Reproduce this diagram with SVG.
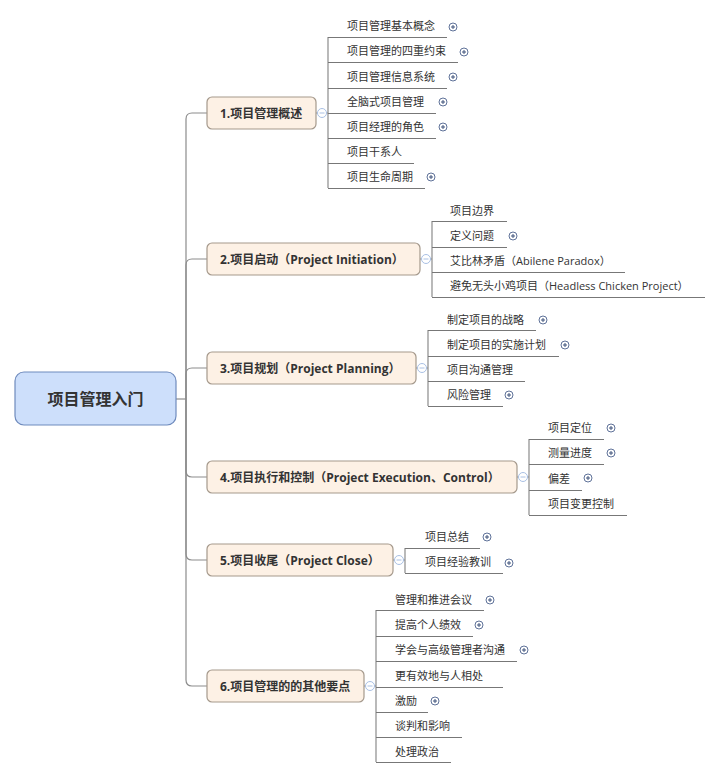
<svg xmlns="http://www.w3.org/2000/svg" width="720" height="777" viewBox="0 0 720 777">
<defs>
<style>
text{font-family:"Open Sans","Noto Sans CJK SC",sans-serif;fill:#333}
.root rect{fill:#cddffb;stroke:#6f8bbd;stroke-width:1.2}
.root text{font-size:16px;font-weight:bold;text-anchor:middle}
.br rect{fill:#fdf1e5;stroke:#a5998c;stroke-width:1.2}
.br text{font-size:12px;font-weight:bold}
.leaf text{font-size:11px}
.ul{stroke:#777;stroke-width:1}
.conn path{fill:none;stroke:#8c8c8c;stroke-width:1.2}
.col circle{fill:#fff;stroke:#a9c0e4;stroke-width:1}
.col line{stroke:#a9c0e4;stroke-width:1}
</style>
<g id="plus"><circle r="4" fill="#fff" stroke="#5f7299" stroke-width="1"/><path d="M-2,0H2M0,-2V2" stroke="#3f527a" stroke-width="1"/></g>
<g id="minus"><circle r="4.5" fill="#fff" stroke="#a9c0e4" stroke-width="1"/><path d="M-2.5,0H2.5" stroke="#a9c0e4" stroke-width="1"/></g>
</defs>
<rect width="720" height="777" fill="#fff"/>

<g id="connectors" class="conn">
<path d="M176,399H186"/>
<path d="M186,399V119Q186,113 192,113H207"/>
<path d="M186,399V265Q186,259 192,259H207"/>
<path d="M186,399V374Q186,368 192,368H207"/>
<path d="M186,399V471Q186,477 192,477H207"/>
<path d="M186,399V554Q186,560 192,560H207"/>
<path d="M186,399V680Q186,686 192,686H207"/>
<path d="M316,113H328M328,37V188"/>
<path d="M420,259H432M432,221V297"/>
<path d="M416,368H428M428,330V406"/>
<path d="M517,477H529M529,439V515"/>
<path d="M393,560H405M405,548V573"/>
<path d="M364,686H376M376,610V762"/>
</g>

<g id="root" class="root"><rect x="15" y="372" width="161" height="53" rx="9"/><text x="95.5" y="405">项目管理入门</text></g>

<g id="b1" class="br"><rect x="207" y="97" width="109" height="32" rx="5"/><text x="220" y="117.5">1.项目管理概述</text><use href="#minus" x="322" y="113"/></g>
<g id="b2" class="br"><rect x="207" y="243" width="213" height="32" rx="5"/><text x="220" y="263.5">2.项目启动（Project Initiation）</text><use href="#minus" x="426" y="259"/></g>
<g id="b3" class="br"><rect x="207" y="352" width="209" height="32" rx="5"/><text x="220" y="372.5">3.项目规划（Project Planning）</text><use href="#minus" x="422" y="368"/></g>
<g id="b4" class="br"><rect x="207" y="461" width="310" height="32" rx="5"/><text x="220" y="481.5">4.项目执行和控制（Project Execution、Control）</text><use href="#minus" x="523" y="477"/></g>
<g id="b5" class="br"><rect x="207" y="544" width="186" height="32" rx="5"/><text x="220" y="564.5">5.项目收尾（Project Close）</text><use href="#minus" x="399" y="560"/></g>
<g id="b6" class="br"><rect x="207" y="670" width="157" height="32" rx="5"/><text x="220" y="690.5">6.项目管理的的其他要点</text><use href="#minus" x="370" y="686"/></g>

<g id="b1-leaves" class="leaf">
<g id="l1-1"><text x="347" y="30">项目管理基本概念</text><line class="ul" x1="328" y1="37.5" x2="447" y2="37.5"/><use href="#plus" x="453" y="27"/></g>
<g id="l1-2"><text x="347" y="55">项目管理的四重约束</text><line class="ul" x1="328" y1="62.5" x2="458" y2="62.5"/><use href="#plus" x="464" y="52"/></g>
<g id="l1-3"><text x="347" y="81">项目管理信息系统</text><line class="ul" x1="328" y1="88.5" x2="447" y2="88.5"/><use href="#plus" x="453" y="77"/></g>
<g id="l1-4"><text x="347" y="106">全脑式项目管理</text><line class="ul" x1="328" y1="113.5" x2="436" y2="113.5"/><use href="#plus" x="443" y="102"/></g>
<g id="l1-5"><text x="347" y="131">项目经理的角色</text><line class="ul" x1="328" y1="138.5" x2="436" y2="138.5"/><use href="#plus" x="443" y="127"/></g>
<g id="l1-6"><text x="347" y="156">项目干系人</text><line class="ul" x1="328" y1="163.5" x2="414" y2="163.5"/></g>
<g id="l1-7"><text x="347" y="181">项目生命周期</text><line class="ul" x1="328" y1="188.5" x2="425" y2="188.5"/><use href="#plus" x="431" y="177"/></g>
</g>

<g id="b2-leaves" class="leaf">
<g id="l2-1"><text x="450" y="215">项目边界</text><line class="ul" x1="432" y1="221.5" x2="507" y2="221.5"/></g>
<g id="l2-2"><text x="450" y="240">定义问题</text><line class="ul" x1="432" y1="247.5" x2="507" y2="247.5"/><use href="#plus" x="513" y="236"/></g>
<g id="l2-3"><text x="450" y="265">艾比林矛盾（Abilene Paradox）</text><line class="ul" x1="432" y1="272.5" x2="625" y2="272.5"/></g>
<g id="l2-4"><text x="450" y="290">避免无头小鸡项目（Headless Chicken Project）</text><line class="ul" x1="432" y1="297.5" x2="705" y2="297.5"/></g>
</g>

<g id="b3-leaves" class="leaf">
<g id="l3-1"><text x="447" y="324">制定项目的战略</text><line class="ul" x1="428" y1="330.5" x2="536" y2="330.5"/><use href="#plus" x="543" y="320"/></g>
<g id="l3-2"><text x="447" y="349">制定项目的实施计划</text><line class="ul" x1="428" y1="356.5" x2="559" y2="356.5"/><use href="#plus" x="565" y="345"/></g>
<g id="l3-3"><text x="447" y="374">项目沟通管理</text><line class="ul" x1="428" y1="381.5" x2="525" y2="381.5"/></g>
<g id="l3-4"><text x="447" y="399">风险管理</text><line class="ul" x1="428" y1="406.5" x2="503" y2="406.5"/><use href="#plus" x="509" y="395"/></g>
</g>

<g id="b4-leaves" class="leaf">
<g id="l4-1"><text x="548" y="432">项目定位</text><line class="ul" x1="529" y1="439.5" x2="604" y2="439.5"/><use href="#plus" x="611" y="428"/></g>
<g id="l4-2"><text x="548" y="457">测量进度</text><line class="ul" x1="529" y1="464.5" x2="604" y2="464.5"/><use href="#plus" x="611" y="453"/></g>
<g id="l4-3"><text x="548" y="483">偏差</text><line class="ul" x1="529" y1="490.5" x2="582" y2="490.5"/><use href="#plus" x="588" y="478"/></g>
<g id="l4-4"><text x="548" y="508">项目变更控制</text><line class="ul" x1="529" y1="515.5" x2="627" y2="515.5"/></g>
</g>

<g id="b5-leaves" class="leaf">
<g id="l5-1"><text x="425" y="541">项目总结</text><line class="ul" x1="405" y1="548.5" x2="480" y2="548.5"/><use href="#plus" x="487" y="537"/></g>
<g id="l5-2"><text x="425" y="566">项目经验教训</text><line class="ul" x1="405" y1="573.5" x2="503" y2="573.5"/><use href="#plus" x="509" y="563"/></g>
</g>

<g id="b6-leaves" class="leaf">
<g id="l6-1"><text x="395" y="604">管理和推进会议</text><line class="ul" x1="376" y1="610.5" x2="484" y2="610.5"/><use href="#plus" x="490" y="600"/></g>
<g id="l6-2"><text x="395" y="629">提高个人绩效</text><line class="ul" x1="376" y1="636.5" x2="473" y2="636.5"/><use href="#plus" x="479" y="625"/></g>
<g id="l6-3"><text x="395" y="654">学会与高级管理者沟通</text><line class="ul" x1="376" y1="661.5" x2="517" y2="661.5"/><use href="#plus" x="524" y="650"/></g>
<g id="l6-4"><text x="395" y="680">更有效地与人相处</text><line class="ul" x1="376" y1="687.5" x2="503" y2="687.5"/></g>
<g id="l6-5"><text x="395" y="705">激励</text><line class="ul" x1="376" y1="712.5" x2="428" y2="712.5"/><use href="#plus" x="435" y="701"/></g>
<g id="l6-6"><text x="395" y="730">谈判和影响</text><line class="ul" x1="376" y1="737.5" x2="462" y2="737.5"/></g>
<g id="l6-7"><text x="395" y="756">处理政治</text><line class="ul" x1="376" y1="762.5" x2="451" y2="762.5"/></g>
</g>
</svg>
